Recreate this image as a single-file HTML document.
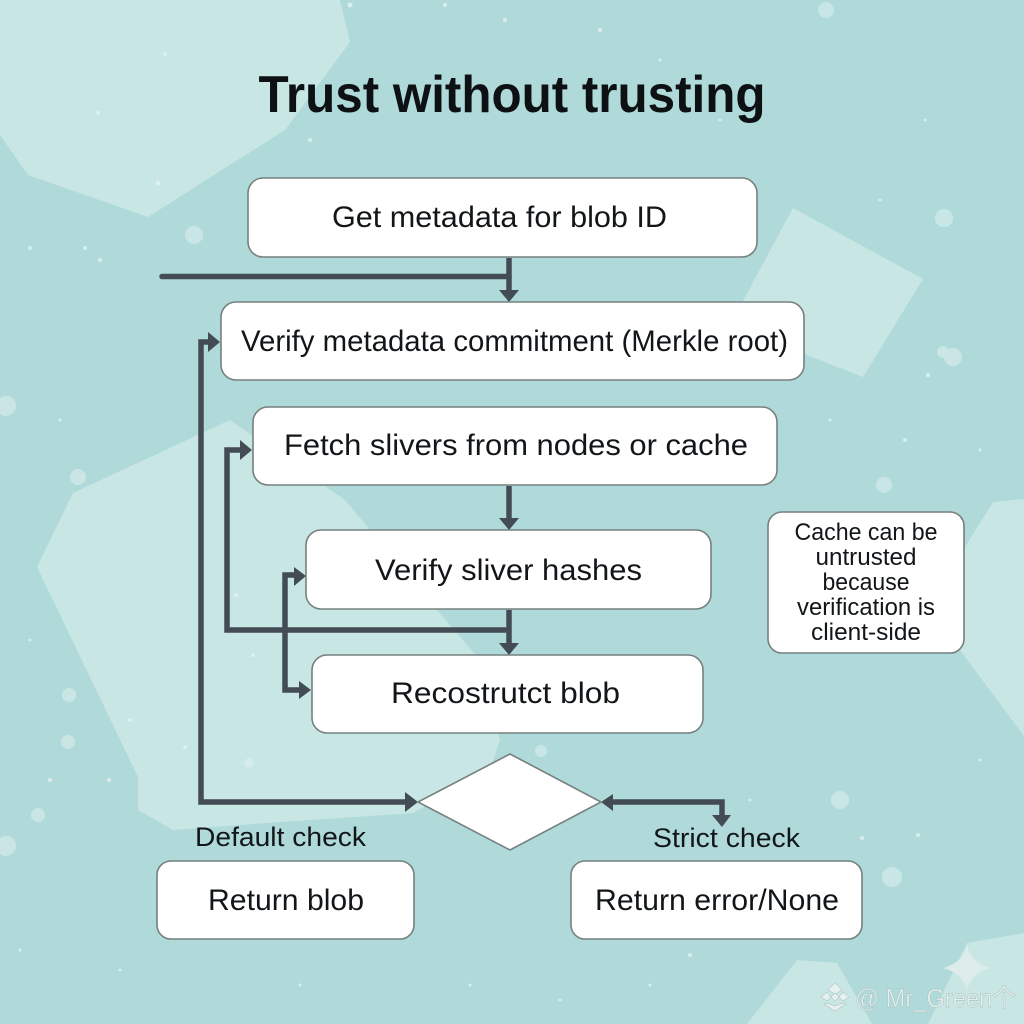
<!DOCTYPE html>
<html>
<head>
<meta charset="utf-8">
<style>
html,body{margin:0;padding:0;background:#b0dad9;}
svg{display:block;}
text{font-family:"Liberation Sans","Noto Sans CJK SC",sans-serif;fill:#121619;}
.n{fill:#fff;stroke:#75807f;stroke-width:1.6;}
.l{fill:none;stroke:#434c54;stroke-width:5.500;stroke-linejoin:miter;}
.a{fill:#434c54;}
</style>
</head>
<body>
<svg width="1024" height="1024" viewBox="0 0 1024 1024" xmlns="http://www.w3.org/2000/svg">
<rect width="1024" height="1024" fill="#b0dad9"/>
<!-- background shards -->
<g fill="#c8e6e4">
<polygon points="0,0 340,0 350,42 285,130 217,173 148,217 28,175 0,135"/>
<polygon points="793,208 923,279 863,377 730,325"/>
<polygon points="37,567 73,493 230,420 345,500 437,610 480,660 500,740 490,770 413,813 267,823 173,830 138,810 138,777"/>
<polygon points="1024,499 993,502 965,547 960,650 1024,736"/>
<polygon points="747,1024 797,960 837,963 872,1024"/>
<polygon points="928,1024 967,943 1024,933 1024,1024"/>
</g>
<!-- speckles -->
<g fill="#dff1f0" opacity=".55">
<circle cx="826" cy="10" r="8"/><circle cx="6" cy="406" r="10"/><circle cx="6" cy="846" r="10"/>
<circle cx="943" cy="352" r="6"/><circle cx="953" cy="357" r="9"/><circle cx="892" cy="877" r="10"/><circle cx="840" cy="800" r="9"/>
<circle cx="249" cy="763" r="5"/><circle cx="541" cy="751" r="6"/>
<circle cx="194" cy="235" r="9"/><circle cx="68" cy="742" r="7"/><circle cx="38" cy="815" r="7"/>
<circle cx="884" cy="485" r="8"/><circle cx="78" cy="477" r="8"/><circle cx="69" cy="695" r="7"/><circle cx="944" cy="218" r="9"/>
</g>
<g fill="#e4f3f2" opacity=".8">
<circle cx="660" cy="60" r="1.500"/><circle cx="925" cy="120" r="1.500"/><circle cx="100" cy="260" r="2"/>
<circle cx="60" cy="420" r="1.500"/><circle cx="30" cy="640" r="1.500"/><circle cx="980" cy="450" r="1.500"/>
<circle cx="720" cy="120" r="1.500"/><circle cx="600" cy="30" r="2"/><circle cx="880" cy="200" r="1.500"/>
<circle cx="980" cy="760" r="1.500"/><circle cx="750" cy="800" r="1.500"/><circle cx="470" cy="985" r="1.500"/>
<circle cx="120" cy="970" r="1.500"/><circle cx="300" cy="985" r="1.500"/><circle cx="650" cy="985" r="1.500"/>
<circle cx="820" cy="650" r="1.500"/><circle cx="158" cy="183" r="2.500"/><circle cx="165" cy="54" r="2"/>
<circle cx="98" cy="113" r="2"/><circle cx="30" cy="248" r="2"/><circle cx="85" cy="248" r="2"/>
<circle cx="310" cy="140" r="2"/><circle cx="350" cy="5" r="2.500"/><circle cx="445" cy="5" r="2"/>
<circle cx="130" cy="720" r="2"/><circle cx="50" cy="780" r="2"/><circle cx="109" cy="780" r="2"/>
<circle cx="236" cy="595" r="2"/><circle cx="253" cy="655" r="2"/><circle cx="185" cy="747" r="2"/>
<circle cx="928" cy="375" r="2"/><circle cx="905" cy="440" r="2"/><circle cx="830" cy="420" r="1.500"/>
<circle cx="918" cy="835" r="2"/><circle cx="862" cy="838" r="2"/><circle cx="690" cy="955" r="2"/>
<circle cx="20" cy="950" r="1.500"/><circle cx="560" cy="1000" r="1.500"/><circle cx="505" cy="20" r="2"/>
</g>
<!-- sparkle -->
<path d="M967 945 Q971 963 990 968 Q971 973 967 991 Q963 973 943 968 Q963 963 967 945Z" fill="#dcecea"/>

<text x="512" y="112" text-anchor="middle" font-size="52" font-weight="700" textLength="507" lengthAdjust="spacingAndGlyphs" style="fill:#0d1113">Trust without trusting</text>

<!-- connectors -->
<path class="l" d="M162 276.500H509" stroke-linecap="round"/>
<path class="l" d="M509 258V292"/>
<polygon class="a" points="499,290 519,290 509,302"/>
<path class="l" d="M410 802H201V342H210"/>
<polygon class="a" points="405,792 418,802 405,812"/>
<polygon class="a" points="208,332 220,342 208,352"/>
<path class="l" d="M509 486V520"/>
<polygon class="a" points="499,518 519,518 509,530"/>
<path class="l" d="M509 610V644M509 630H227V450H242"/>
<polygon class="a" points="499,643 519,643 509,655"/>
<polygon class="a" points="240,440 252,450 240,460"/>
<path class="l" d="M295 575H285V690H300"/>
<polygon class="a" points="294,567 306,576 294,586"/>
<polygon class="a" points="299,681 311,690 299,699"/>
<path class="l" d="M610 802H722V818"/>
<polygon class="a" points="613,794 601,802 613,811"/>
<polygon class="a" points="712,815 731,815 722,827"/>

<!-- nodes -->
<rect class="n" x="248" y="178" width="509" height="79" rx="15"/>
<rect class="n" x="221" y="302" width="583" height="78" rx="15"/>
<rect class="n" x="253" y="407" width="524" height="78" rx="15"/>
<rect class="n" x="306" y="530" width="405" height="79" rx="15"/>
<rect class="n" x="312" y="655" width="391" height="78" rx="15"/>
<polygon class="n" points="510,754 601,802 510,850 418,802"/>
<rect class="n" x="157" y="861" width="257" height="78" rx="14"/>
<rect class="n" x="571" y="861" width="291" height="78" rx="14"/>
<rect class="n" x="768" y="512" width="196" height="141" rx="14"/>

<!-- labels -->
<g font-size="29.500">
<text x="332" y="227" textLength="335" lengthAdjust="spacingAndGlyphs">Get metadata for blob ID</text>
<text x="241" y="351" textLength="547" lengthAdjust="spacingAndGlyphs">Verify metadata commitment (Merkle root)</text>
<text x="284" y="455" textLength="464" lengthAdjust="spacingAndGlyphs">Fetch slivers from nodes or cache</text>
<text x="375" y="580" textLength="267" lengthAdjust="spacingAndGlyphs">Verify sliver hashes</text>
<text x="391" y="703" textLength="229" lengthAdjust="spacingAndGlyphs">Recostrutct blob</text>
<text x="208" y="910" textLength="156" lengthAdjust="spacingAndGlyphs">Return blob</text>
<text x="595" y="910" textLength="244" lengthAdjust="spacingAndGlyphs">Return error/None</text>
</g>
<g font-size="27">
<text x="195" y="846" textLength="171" lengthAdjust="spacingAndGlyphs">Default check</text>
<text x="653" y="847" textLength="147" lengthAdjust="spacingAndGlyphs">Strict check</text>
</g>
<g font-size="24" text-anchor="middle">
<text x="866" y="540" textLength="143" lengthAdjust="spacingAndGlyphs">Cache can be</text>
<text x="866" y="565" textLength="101" lengthAdjust="spacingAndGlyphs">untrusted</text>
<text x="866" y="590" textLength="87" lengthAdjust="spacingAndGlyphs">because</text>
<text x="866" y="615" textLength="138" lengthAdjust="spacingAndGlyphs">verification is</text>
<text x="866" y="640" textLength="110" lengthAdjust="spacingAndGlyphs">client-side</text>
</g>

<!-- watermark -->
<g fill="#e6f0ef" stroke="#9fb5b4" stroke-width=".5">
<polygon points="835,983 842,990 835,994 828,990"/>
<polygon points="827,992 831,997 827,1001 821,997"/>
<polygon points="843,992 849,997 843,1001 839,997"/>
<polygon points="835,993 839,997 835,1001 831,997"/>
<polygon points="827,1003 835,1006 843,1003 846,1004 835,1011 824,1004"/>
</g>
<text x="855" y="1007" font-size="26" textLength="161" lengthAdjust="spacingAndGlyphs" style="fill:#e4efee;stroke:#9fb5b4;stroke-width:.4">@ Mr_Green个</text>
</svg>
</body>
</html>
